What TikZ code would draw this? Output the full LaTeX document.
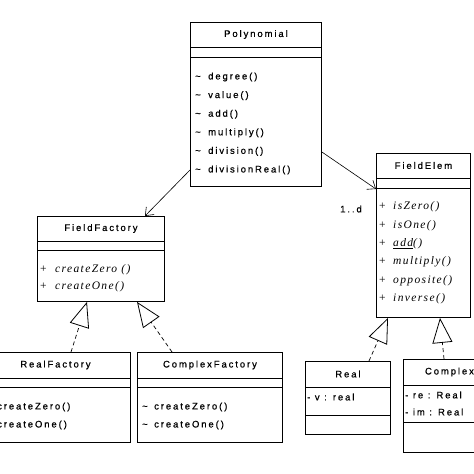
\documentclass[tikz,border=0pt]{standalone}
\usepackage{fontspec}
\setmainfont{Liberation Sans}
\newfontfamily\umlsans[LetterSpace=20,FakeBold=0.6]{Liberation Sans}
\newfontfamily\umlser[LetterSpace=12]{Liberation Serif}
\usetikzlibrary{arrows.meta,calc}
\begin{document}
\begin{tikzpicture}[x=1pt,y=-1pt,
  cls/.style={draw,line width=0.9pt,inner sep=0pt,anchor=north west},
  ttl/.style={font=\umlsans\fontsize{9.5}{10}\selectfont,inner sep=0pt},
  mth/.style={font=\umlsans\fontsize{9.5}{10}\selectfont,inner sep=0pt,anchor=west},
  imth/.style={font=\umlser\fontsize{11.5}{12}\selectfont,inner sep=0pt,anchor=west},
  sep/.style={line width=0.9pt},
  assoc/.style={line width=0.6pt,-{Straight Barb[length=7pt,width=11pt,line width=0.6pt]}},
  realz/.style={line width=0.7pt,dash pattern=on 4pt off 3pt,-{Triangle[open,length=25pt,width=20pt,line width=0.8pt]}}
]
\useasboundingbox (0,0) rectangle (474,474);
\fill[white] (0,0) rectangle (474,474);
\clip (0,0) rectangle (474,474);

% Polynomial
\node[cls,minimum width=131pt,minimum height=164pt] (poly) at (190,22) {};
\draw[sep] ($(poly.north west)+(0,25)$) -- ($(poly.north east)+(0,25)$);
\draw[sep] ($(poly.north west)+(0,35)$) -- ($(poly.north east)+(0,35)$);
\node[ttl] (polyT) at ($(poly.north)+(0,12.5)$) {Polynomial};
\foreach \t [count=\i] in {degree(),value(),add(),multiply(),division(),divisionReal()}
  \node[mth] (polyM\i) at ($(poly.north west)+(5,{55+18.6*(\i-1)})$) {\makebox[13pt][l]{\textasciitilde}\t};

% FieldFactory
\node[cls,minimum width=127pt,minimum height=85pt] (ff) at (37,216) {};
\draw[sep] ($(ff.north west)+(0,25)$) -- ($(ff.north east)+(0,25)$);
\draw[sep] ($(ff.north west)+(0,34)$) -- ($(ff.north east)+(0,34)$);
\node[ttl] (ffT) at ($(ff.north)+(0,12.5)$) {FieldFactory};
\node[imth] (ffM1) at ($(ff.north west)+(3,54)$) {\makebox[15pt][l]{+}\textit{createZero ()}};
\node[imth] (ffM2) at ($(ff.north west)+(3,71)$) {\makebox[15pt][l]{+}\textit{createOne()}};

% RealFactory
\node[cls,minimum width=150pt,minimum height=90pt] (rf) at (-20,352) {};
\draw[sep] ($(rf.north west)+(0,26)$) -- ($(rf.north east)+(0,26)$);
\draw[sep] ($(rf.north west)+(0,35)$) -- ($(rf.north east)+(0,35)$);
\node[ttl] (rfT) at ($(rf.north)+(0,13)$) {RealFactory};
\node[mth] (rfM1) at ($(rf.north west)+(5,55)$) {\makebox[12pt][l]{\textasciitilde}createZero()};
\node[mth] (rfM2) at ($(rf.north west)+(5,73)$) {\makebox[12pt][l]{\textasciitilde}createOne()};

% ComplexFactory
\node[cls,minimum width=145pt,minimum height=90pt] (cf) at (137,352) {};
\draw[sep] ($(cf.north west)+(0,26)$) -- ($(cf.north east)+(0,26)$);
\draw[sep] ($(cf.north west)+(0,35)$) -- ($(cf.north east)+(0,35)$);
\node[ttl] (cfT) at ($(cf.north)+(0,13)$) {ComplexFactory};
\node[mth] (cfM1) at ($(cf.north west)+(5,55)$) {\makebox[12pt][l]{\textasciitilde}createZero()};
\node[mth] (cfM2) at ($(cf.north west)+(5,73)$) {\makebox[12pt][l]{\textasciitilde}createOne()};

% FieldElem
\node[cls,minimum width=94pt,minimum height=164pt] (fe) at (376,153) {};
\draw[sep] ($(fe.north west)+(0,25)$) -- ($(fe.north east)+(0,25)$);
\draw[sep] ($(fe.north west)+(0,35)$) -- ($(fe.north east)+(0,35)$);
\node[ttl] (feT) at ($(fe.north)+(0,12.5)$) {FieldElem};
\foreach \t [count=\i] in {isZero(),isOne(),\underline{add}(),multiply(),opposite(),inverse()}
  \node[imth] (feM\i) at ($(fe.north west)+(3,{54+18.4*(\i-1)})$) {\makebox[14pt][l]{+}\textit{\t}};

% Real
\node[cls,minimum width=85pt,minimum height=73pt] (re) at (305,361) {};
\draw[sep] ($(re.north west)+(0,26)$) -- ($(re.north east)+(0,26)$);
\draw[sep] ($(re.north west)+(0,54)$) -- ($(re.north east)+(0,54)$);
\node[ttl] (reT) at ($(re.north)+(0,13)$) {Real};
\node[mth] (reA1) at ($(re.north west)+(2,36)$) {- v : real};

% Complex
\node[cls,minimum width=92pt,minimum height=93pt] (co) at (403,359) {};
\draw[sep] ($(co.north west)+(0,26)$) -- ($(co.north east)+(0,26)$);
\draw[sep] ($(co.north west)+(0,63)$) -- ($(co.north east)+(0,63)$);
\node[ttl] (coT) at ($(co.north)+(0,13)$) {Complex};
\node[mth] (coA1) at ($(co.north west)+(2,36)$) {- re : Real};
\node[mth] (coA2) at ($(co.north west)+(2,53)$) {- im : Real};

% associations
\coordinate (a1s) at ($(poly.north west)+(0,148)$);
\coordinate (a1e) at ($(ff.north west)+(108,0)$);
\draw[assoc] (a1s) -- (a1e);
\coordinate (a2s) at ($(poly.north east)+(0,130)$);
\coordinate (a2e) at ($(fe.north west)+(0,36)$);
\draw[assoc] (a2s) -- (a2e);
\node[ttl] (mult) at (351,209) {1..d};

% realizations
\draw[realz] ($(rf.north west)+(91,0)$) -- ($(ff.south west)+(50,0)$);
\draw[realz] ($(cf.north west)+(35,0)$) -- ($(ff.south west)+(100,0)$);
\draw[realz] ($(re.north west)+(64,0)$) -- ($(fe.south west)+(12,0)$);
\draw[realz] ($(co.north west)+(41,0)$) -- ($(fe.south west)+(64,0)$);
\end{tikzpicture}
\end{document}
